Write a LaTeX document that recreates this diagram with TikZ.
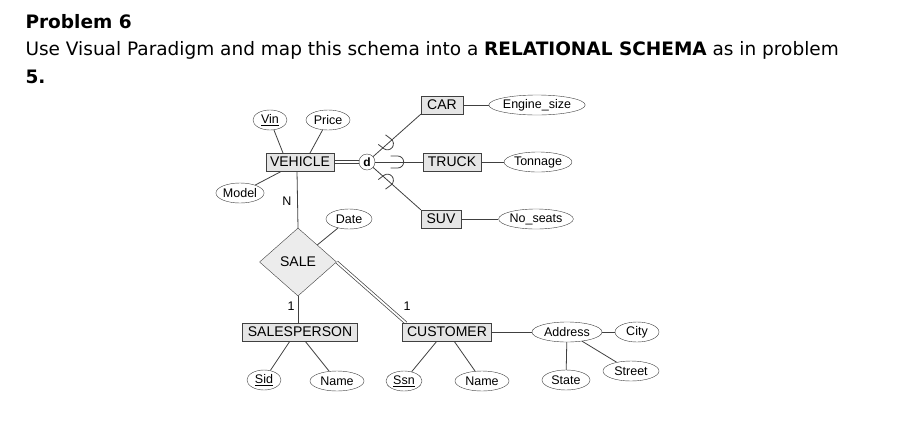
\documentclass[tikz,border=0pt]{standalone}
\usepackage{fontspec}
\setmainfont{Liberation Sans}
\newfontfamily\titlefont{DejaVu Sans}
\usetikzlibrary{shapes.geometric,calc,backgrounds}
\begin{document}
\begin{tikzpicture}[x=1pt,y=-1pt,
 ent/.style={draw=black!75,fill=gray!20,minimum height=18pt,inner xsep=2pt,font=\fontsize{14}{15}\selectfont},
 att/.style={draw=black!75,ellipse,fill=white,minimum height=20pt,inner xsep=0pt,inner ysep=1pt,font=\fontsize{12.5}{13}\selectfont},
 rel/.style={draw=black!75,diamond,fill=gray!15,minimum width=77pt,minimum height=68pt,aspect=1.1,inner sep=0pt,font=\fontsize{14}{15}\selectfont},
 ln/.style={draw=black!75,line width=0.8pt},
 dbl/.style={draw=black!75,double=white,double distance=1.8pt,line width=0.7pt},
 lbl/.style={font=\fontsize{12.5}{13}\selectfont},
 sub/.pic={\draw[black!75,line width=0.8pt] (-7,-6) -- (0,-6) arc(-90:90:6) -- (-7,6);}
]
\useasboundingbox (0,0) rectangle (922,429);
\node[anchor=west,font=\titlefont\fontsize{18.5}{20}\selectfont\bfseries] (t1) at (22,22) {Problem 6};
\node[anchor=west,font=\titlefont\fontsize{18.5}{20}\selectfont] (t2) at (22,50) {Use Visual Paradigm and map this schema into a \textbf{RELATIONAL SCHEMA} as in problem};
\node[anchor=west,font=\titlefont\fontsize{18.5}{20}\selectfont\bfseries] (t3) at (22,77) {5.};

\node[ent,minimum width=68pt] (veh) at (300,162) {VEHICLE};
\node[att,minimum width=34pt] (vin) at (270,120) {\underline{Vin}};
\node[att,minimum width=44pt] (price) at (328,120) {Price};
\node[att,minimum width=46pt] (model) at (240,193) {Model};
\node[lbl] (n) at (287,201) {N};
\node[draw=black!75,circle,fill=white,minimum size=16pt,inner sep=0pt,font=\fontsize{12}{13}\selectfont\bfseries] (d) at (367,162) {d};
\node[ent,minimum width=42pt] (car) at (442,105) {CAR};
\node[att,minimum width=80pt] (eng) at (537,105) {Engine\_size};
\node[ent,minimum width=58pt] (truck) at (452,162) {TRUCK};
\node[att,minimum width=62pt] (ton) at (538,162) {Tonnage};
\node[ent,minimum width=40pt] (suv) at (441,219) {SUV};
\node[att,minimum width=72pt] (nos) at (536,219) {No\_seats};
\node[att,minimum width=46pt] (date) at (349,219) {Date};
\node[rel] (sale) at (298,262) {SALE};
\node[lbl] (one1) at (291,306) {1};
\node[lbl] (one2) at (407,306) {1};
\node[ent,minimum width=115pt] (sp) at (300,332) {SALESPERSON};
\node[ent,minimum width=89pt] (cu) at (447,332) {CUSTOMER};
\node[att,minimum width=70pt] (addr) at (567,332) {Address};
\node[att,minimum width=44pt] (city) at (637,332) {City};
\node[att,minimum width=56pt] (street) at (631,371) {Street};
\node[att,minimum width=48pt] (state) at (566,380) {State};
\node[att,minimum width=34pt] (sid) at (264,380) {\underline{Sid}};
\node[att,minimum width=54pt] (name1) at (337,381) {Name};
\node[att,minimum width=36pt] (ssn) at (404,381) {\underline{Ssn}};
\node[att,minimum width=54pt] (name2) at (482,381) {Name};

\begin{scope}[on background layer]
\coordinate (vt1) at (283,153); \coordinate (vt2) at (310,153);
\coordinate (vb1) at (282,171); \coordinate (vb2) at (297,171);
\draw[ln] (vin) -- (vt1); \draw[ln] (price) -- (vt2);
\draw[ln] (model) -- (vb1);
\draw[ln] (vb2) -- (sale.north);
\draw[dbl] (veh.east) -- (d.west);
\draw[ln] (d) -- (car.south west);
\draw[ln] (d) -- (truck);
\draw[ln] (d) -- (suv.north west);
\draw[ln] (car) -- (eng); \draw[ln] (truck) -- (ton); \draw[ln] (suv) -- (nos);
\draw[ln] ($(sale.north)!0.5!(sale.east)$) -- (date);
\draw[ln] (sale.south) -- (sale.south |- sp.north);
\coordinate (cutl) at (406,323);
\draw[dbl] (sale.east) -- (cutl);
\coordinate (sp1) at (290,341); \coordinate (sp2) at (305,341);
\draw[ln] (sp1) -- (sid); \draw[ln] (sp2) -- (name1);
\coordinate (cu1) at (437,341); \coordinate (cu2) at (454,341);
\draw[ln] (cu1) -- (ssn); \draw[ln] (cu2) -- (name2);
\draw[ln] (cu) -- (addr); \draw[ln] (addr) -- (city);
\draw[ln] (addr) -- (street); \draw[ln] (addr) -- (state);
\end{scope}
\pic[rotate=-37] at ($(d)!0.38!(car.south west)$) {sub};
\pic at ($(d)!0.55!(truck.west)$) {sub};
\pic[rotate=37] at ($(d)!0.38!(suv.north west)$) {sub};
\end{tikzpicture}
\end{document}
